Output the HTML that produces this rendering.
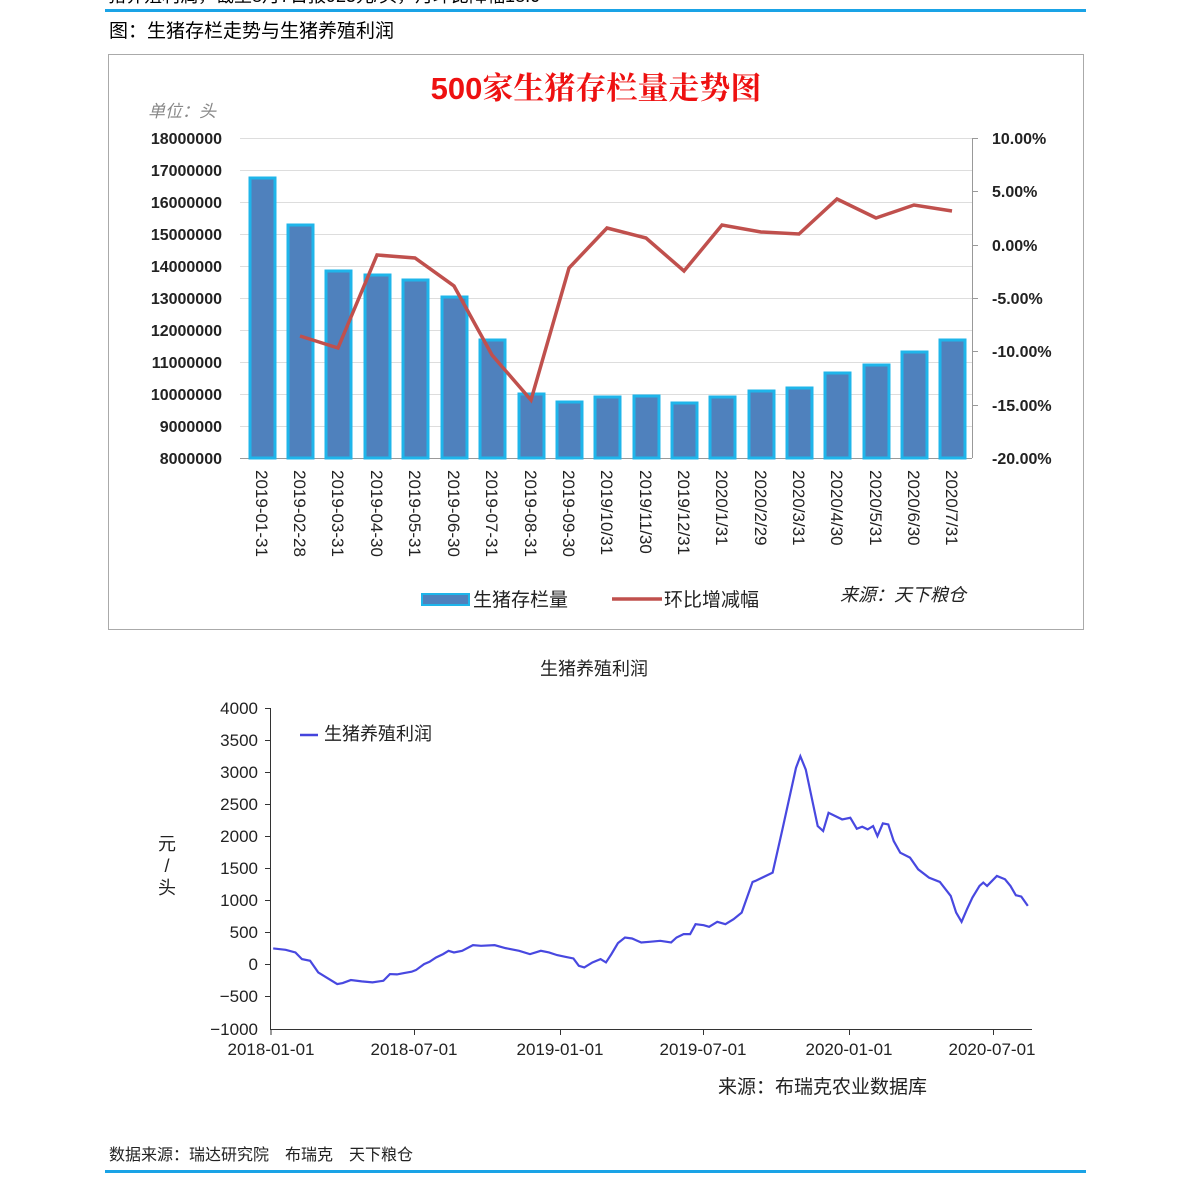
<!DOCTYPE html>
<html><head><meta charset="utf-8"><style>
body{margin:0;background:#fff;width:1191px;height:1183px;overflow:hidden;font-family:"Liberation Sans","Noto Sans CJK SC",sans-serif;}
</style></head><body>
<svg width="1191" height="1183" xmlns="http://www.w3.org/2000/svg" font-family="Liberation Sans, Noto Sans CJK SC, sans-serif">
<text x="108" y="2" font-size="18" fill="#000">猪养殖利润，截至8月7日报925元/头，月环比降幅18.0</text>
<rect x="105" y="9" width="981" height="3" fill="#1aa3e6"/>
<text x="109" y="37" font-size="19" fill="#000">图：生猪存栏走势与生猪养殖利润</text>
<rect x="108.5" y="54.5" width="975" height="575" fill="#fff" stroke="#aaa"/>
<text x="596" y="99" font-size="31" font-weight="bold" fill="#ee1111" text-anchor="middle" font-family="Liberation Sans, Noto Serif CJK SC, serif">500家生猪存栏量走势图</text>
<text x="148" y="117" font-size="17" fill="#888" font-style="italic">单位：头</text>
<g stroke="#ddd" stroke-width="1">
<line x1="240" y1="138.5" x2="972" y2="138.5"/><line x1="240" y1="170.5" x2="972" y2="170.5"/><line x1="240" y1="202.5" x2="972" y2="202.5"/><line x1="240" y1="234.5" x2="972" y2="234.5"/><line x1="240" y1="266.5" x2="972" y2="266.5"/><line x1="240" y1="298.5" x2="972" y2="298.5"/><line x1="240" y1="330.5" x2="972" y2="330.5"/><line x1="240" y1="362.5" x2="972" y2="362.5"/><line x1="240" y1="394.5" x2="972" y2="394.5"/><line x1="240" y1="426.5" x2="972" y2="426.5"/>
</g>
<line x1="240" y1="458.5" x2="972" y2="458.5" stroke="#999"/>
<line x1="972.5" y1="138" x2="972.5" y2="458" stroke="#999"/>
<g stroke="#999"><line x1="972" y1="138.5" x2="978" y2="138.5"/><line x1="972" y1="191.5" x2="978" y2="191.5"/><line x1="972" y1="245.5" x2="978" y2="245.5"/><line x1="972" y1="298.5" x2="978" y2="298.5"/><line x1="972" y1="351.5" x2="978" y2="351.5"/><line x1="972" y1="405.5" x2="978" y2="405.5"/></g>
<g font-size="16" fill="#222" text-anchor="end" font-weight="600">
<text x="222" y="144">18000000</text><text x="222" y="176">17000000</text><text x="222" y="208">16000000</text><text x="222" y="240">15000000</text><text x="222" y="272">14000000</text><text x="222" y="304">13000000</text><text x="222" y="336">12000000</text><text x="222" y="368">11000000</text><text x="222" y="400">10000000</text><text x="222" y="432">9000000</text><text x="222" y="464">8000000</text>
</g>
<g font-size="16" fill="#222" font-weight="600">
<text x="992" y="144">10.00%</text><text x="992" y="197">5.00%</text><text x="992" y="251">0.00%</text><text x="992" y="304">-5.00%</text><text x="992" y="357">-10.00%</text><text x="992" y="411">-15.00%</text><text x="992" y="464">-20.00%</text>
</g>
<g fill="#4f81bd" stroke="#1fb5ea" stroke-width="3">
<rect x="250" y="178" width="25" height="280"/><rect x="288" y="225" width="25" height="233"/><rect x="326" y="271" width="25" height="187"/><rect x="365" y="275" width="25" height="183"/><rect x="403" y="280" width="25" height="178"/><rect x="442" y="297" width="25" height="161"/><rect x="480" y="340" width="25" height="118"/><rect x="519" y="394" width="25" height="64"/><rect x="557" y="402" width="25" height="56"/><rect x="595" y="397" width="25" height="61"/><rect x="634" y="396" width="25" height="62"/><rect x="672" y="403" width="25" height="55"/><rect x="710" y="397" width="25" height="61"/><rect x="749" y="391" width="25" height="67"/><rect x="787" y="388" width="25" height="70"/><rect x="825" y="373" width="25" height="85"/><rect x="864" y="365" width="25" height="93"/><rect x="902" y="352" width="25" height="106"/><rect x="940" y="340" width="25" height="118"/>
</g>
<polyline fill="none" stroke="#c0504d" stroke-width="3.5" points="300,336 338,348 377,255 415,258 454,286 492,355 531,400 569,268 607,228 646,238 684,271 722,225 761,232 799,234 837,199 876,218 914,205 952,211"/>
<g font-size="17" fill="#222">
<text transform="translate(256,470) rotate(90)">2019-01-31</text><text transform="translate(294,470) rotate(90)">2019-02-28</text><text transform="translate(332,470) rotate(90)">2019-03-31</text><text transform="translate(371,470) rotate(90)">2019-04-30</text><text transform="translate(409,470) rotate(90)">2019-05-31</text><text transform="translate(448,470) rotate(90)">2019-06-30</text><text transform="translate(486,470) rotate(90)">2019-07-31</text><text transform="translate(525,470) rotate(90)">2019-08-31</text><text transform="translate(563,470) rotate(90)">2019-09-30</text><text transform="translate(601,470) rotate(90)">2019/10/31</text><text transform="translate(640,470) rotate(90)">2019/11/30</text><text transform="translate(678,470) rotate(90)">2019/12/31</text><text transform="translate(716,470) rotate(90)">2020/1/31</text><text transform="translate(755,470) rotate(90)">2020/2/29</text><text transform="translate(793,470) rotate(90)">2020/3/31</text><text transform="translate(831,470) rotate(90)">2020/4/30</text><text transform="translate(870,470) rotate(90)">2020/5/31</text><text transform="translate(908,470) rotate(90)">2020/6/30</text><text transform="translate(946,470) rotate(90)">2020/7/31</text>
</g>
<rect x="422" y="594" width="47" height="11" fill="#4f81bd" stroke="#1fb5ea" stroke-width="2"/>
<text x="473" y="606" font-size="19" fill="#222">生猪存栏量</text>
<line x1="612" y1="599" x2="662" y2="599" stroke="#c0504d" stroke-width="3.5"/>
<text x="664" y="606" font-size="19" fill="#222">环比增减幅</text>
<text x="840" y="601" font-size="18" fill="#222" font-style="italic">来源：天下粮仓</text>

<text x="594" y="675" font-size="18" fill="#222" text-anchor="middle">生猪养殖利润</text>
<line x1="270.5" y1="708" x2="270.5" y2="1030" stroke="#333"/>
<line x1="270" y1="1029.5" x2="1032" y2="1029.5" stroke="#333"/>
<g stroke="#333">
<line x1="265" y1="708.5" x2="271" y2="708.5"/><line x1="265" y1="740.5" x2="271" y2="740.5"/><line x1="265" y1="772.5" x2="271" y2="772.5"/><line x1="265" y1="804.5" x2="271" y2="804.5"/><line x1="265" y1="836.5" x2="271" y2="836.5"/><line x1="265" y1="868.5" x2="271" y2="868.5"/><line x1="265" y1="900.5" x2="271" y2="900.5"/><line x1="265" y1="932.5" x2="271" y2="932.5"/><line x1="265" y1="964.5" x2="271" y2="964.5"/><line x1="265" y1="996.5" x2="271" y2="996.5"/>
<line x1="271" y1="1029" x2="271" y2="1035"/><line x1="414.5" y1="1029" x2="414.5" y2="1035"/><line x1="560.5" y1="1029" x2="560.5" y2="1035"/><line x1="703.5" y1="1029" x2="703.5" y2="1035"/><line x1="849.5" y1="1029" x2="849.5" y2="1035"/><line x1="993.5" y1="1029" x2="993.5" y2="1035"/>
</g>
<g font-size="17" fill="#222" text-anchor="end">
<text x="258" y="714">4000</text><text x="258" y="746">3500</text><text x="258" y="778">3000</text><text x="258" y="810">2500</text><text x="258" y="842">2000</text><text x="258" y="874">1500</text><text x="258" y="906">1000</text><text x="258" y="938">500</text><text x="258" y="970">0</text><text x="258" y="1002">−500</text><text x="258" y="1035">−1000</text>
</g>
<g font-size="17" fill="#222" text-anchor="middle">
<text x="271" y="1055">2018-01-01</text><text x="414" y="1055">2018-07-01</text><text x="560" y="1055">2019-01-01</text><text x="703" y="1055">2019-07-01</text><text x="849" y="1055">2020-01-01</text><text x="992" y="1055">2020-07-01</text>
</g>
<text x="167" y="850" font-size="18" fill="#222" text-anchor="middle">元</text>
<text x="167" y="872" font-size="18" fill="#222" text-anchor="middle">/</text>
<text x="167" y="894" font-size="18" fill="#222" text-anchor="middle">头</text>
<line x1="300" y1="735" x2="318" y2="735" stroke="#4444dd" stroke-width="2.5"/>
<text x="324" y="740" font-size="18" fill="#222">生猪养殖利润</text>
<polyline fill="none" stroke="#4848e0" stroke-width="2.2" transform="matrix(0.5429,0,0,0.3326,198.8,689.7)" vector-effect="non-scaling-stroke" points="137,778 160,782 178,790 190,810 205,815 220,850 235,865 255,885 265,882 280,873 300,877 320,880 340,875 352,855 365,856 378,852 392,848 400,843 415,825 425,818 437,805 450,795 460,785 470,790 485,785 505,768 520,770 545,768 565,777 590,785 610,795 630,785 645,790 660,798 675,803 690,808 700,830 710,835 725,820 740,810 750,820 760,795 772,762 785,745 798,748 815,760 830,758 850,755 870,760 880,745 893,735 905,735 915,705 930,708 940,713 955,698 970,705 985,690 1000,670 1020,578 1025,575 1057,550 1075,420 1100,235 1108,200 1118,240 1140,410 1150,425 1160,370 1185,390 1200,385 1212,418 1222,412 1232,420 1242,410 1250,440 1260,402 1270,405 1280,455 1292,490 1310,505 1325,540 1345,565 1365,578 1385,620 1395,670 1405,698 1415,660 1425,625 1438,590 1445,580 1452,590 1470,560 1485,570 1495,590 1505,618 1515,622 1527,650"/>
<text x="718" y="1093" font-size="19" fill="#222">来源：布瑞克农业数据库</text>
<text x="109" y="1160" font-size="16" fill="#222">数据来源：瑞达研究院　布瑞克　天下粮仓</text>
<rect x="105" y="1170" width="981" height="3" fill="#1aa3e6"/>
</svg>
</body></html>
